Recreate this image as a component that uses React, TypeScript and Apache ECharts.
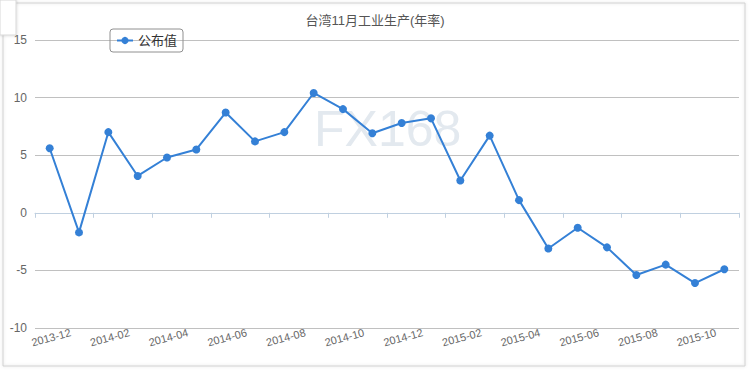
import React, { useEffect, useRef } from "react";
import * as echarts from "echarts";

const categories = [
  "2013-12", "2014-01", "2014-02", "2014-03", "2014-04", "2014-05", "2014-06", "2014-07",
  "2014-08", "2014-09", "2014-10", "2014-11", "2014-12", "2015-01", "2015-02", "2015-03",
  "2015-04", "2015-05", "2015-06", "2015-07", "2015-08", "2015-09", "2015-10", "2015-11",
];
const publishedValues = [
  5.6, -1.7, 7.0, 3.2, 4.8, 5.5, 8.7, 6.2,
  7.0, 10.4, 9.0, 6.9, 7.8, 8.2, 2.8, 6.7,
  1.1, -3.1, -1.3, -3.0, -5.4, -4.5, -6.1, -4.9,
];
const seriesName = "公布值";
const titleText = "台湾11月工业生产(年率)";

const FONT = "'Liberation Sans', Arial, 'Noto Sans CJK SC', sans-serif";

export default function App() {
  const ref = useRef<HTMLDivElement>(null);
  useEffect(() => {
    document.body.style.margin = "0";
    if (!ref.current) return;
    const chart = echarts.init(ref.current, undefined, { renderer: "svg" });
    chart.setOption({
      animation: false,
      backgroundColor: "#fff",
      textStyle: { fontFamily: FONT },
      title: {
        text: titleText,
        left: "center",
        top: 9,
        textStyle: { fontSize: 13, fontWeight: "normal", color: "#555", fontFamily: FONT },
      },
      legend: {
        data: [seriesName],
        left: 110,
        top: 29,
        padding: [5, 6],
        itemWidth: 16,
        itemHeight: 9,
        itemGap: 4,
        borderColor: "#909090",
        borderWidth: 1,
        borderRadius: 3,
        textStyle: { fontSize: 13, color: "#333", fontFamily: FONT },
      },
      graphic: [
        {
          type: "rect",
          shape: { x: 3, y: 3, width: 742, height: 363 },
          style: { fill: "none", stroke: "#d0d0d0", lineWidth: 1, shadowBlur: 3, shadowColor: "rgba(0,0,0,0.15)" },
          silent: true,
          z: -1,
        },
        {
          type: "rect",
          shape: { x: 0, y: 0, width: 16, height: 35 },
          style: { fill: "#fff", stroke: "#d8d8d8", lineWidth: 1, shadowBlur: 3, shadowColor: "rgba(0,0,0,0.2)" },
          silent: true,
        },
        {
          type: "text",
          left: 314,
          top: 104,
          style: {
            text: "FX168",
            fontSize: 50,
            fontFamily: FONT,
            fill: "#e3e9ef",
          },
          silent: true,
          z: -1,
        },
      ],
      grid: { left: 35, right: 11, top: 40, bottom: 42, containLabel: false },
      xAxis: {
        type: "category",
        data: categories,
        boundaryGap: true,
        axisLine: { show: true, lineStyle: { color: "#c0d0e0", width: 1 } },
        axisTick: { show: true, interval: 1, length: 5, lineStyle: { color: "#c0d0e0" } },
        axisLabel: {
          interval: 1,
          rotate: 15,
          align: "center",
          verticalAlign: "top",
          margin: 4,
          color: "#666",
          fontSize: 11,
          fontFamily: FONT,
        },
        splitLine: { show: false },
      },
      yAxis: {
        type: "value",
        min: -10,
        max: 15,
        interval: 5,
        axisLine: { show: false },
        axisTick: { show: false },
        axisLabel: { color: "#666", fontSize: 12, margin: 8, fontFamily: FONT },
        splitLine: { show: true, lineStyle: { color: "#c0c0c0", width: 1 } },
      },
      series: [
        {
          name: seriesName,
          type: "line",
          data: publishedValues,
          symbol: "circle",
          symbolSize: 8,
          itemStyle: { color: "#3480d6" },
          lineStyle: { color: "#3480d6", width: 2 },
        },
      ],
    });
    return () => chart.dispose();
  }, []);
  return <div ref={ref} style={{ width: 750, height: 370 }} />;
}
